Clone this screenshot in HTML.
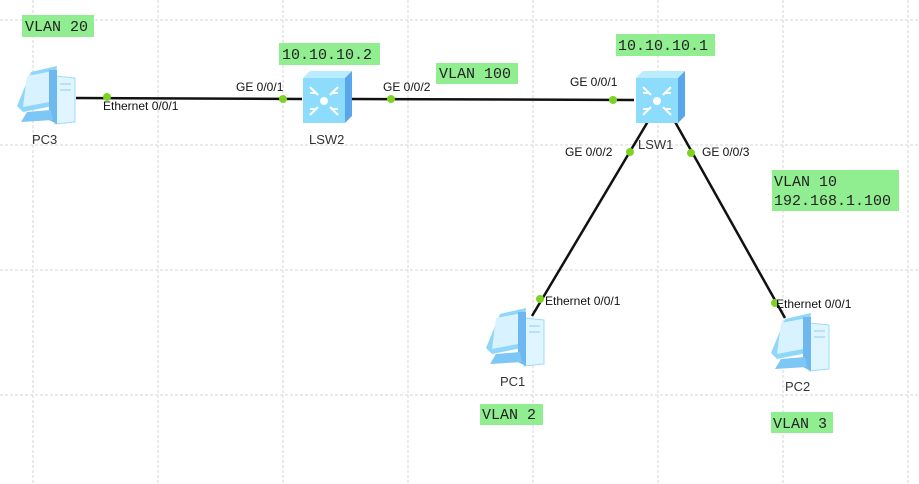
<!DOCTYPE html>
<html><head><meta charset="utf-8"><style>
body{margin:0;background:#fff;}
svg{display:block}
.g{fill:#90ee90}
.m{font-family:"Liberation Mono",monospace;font-size:15px;fill:#222}
.s{font-family:"Liberation Sans",sans-serif;font-size:12px;fill:#111}
.n{font-family:"Liberation Sans",sans-serif;font-size:13px;fill:#333}
</style></head><body>
<svg width="919" height="484" viewBox="0 0 919 484" xmlns="http://www.w3.org/2000/svg">
<defs>
<g id="pc">
  <polygon points="18,6 44,0 40,40 10,46 4,40" fill="#8fd6fb"/>
  <polygon points="14,10 40,5 36,36 10,41" fill="#d8f3ff"/>
  <polygon points="42,10 62,12 62,56 42,58" fill="#dff5ff" stroke="#9edcf8"/>
  <polygon points="36,4 44,4 44,58 36,54" fill="#6fb8ef"/>
  <polygon points="14,46 38,44 40,54 8,56" fill="#7cc7f5"/>
  <line x1="47" y1="18" x2="58" y2="18" stroke="#8fd0f0"/>
  <line x1="47" y1="24" x2="58" y2="24" stroke="#8fd0f0"/>
</g>
<g id="sw">
  <polygon points="3,7 10,0 52,0 45,7" fill="#b9ecff"/>
  <polygon points="45,7 52,0 52,45 45,52" fill="#5aa6ea"/>
  <rect x="3" y="7" width="42" height="45" fill="#8edcfb"/>
  <circle cx="24" cy="30" r="4" fill="#fff"/>
  <g stroke="#fff" stroke-width="2" fill="none">
   <path d="M10 16 L18 24 M10 22 L16 22 M38 16 L30 24 M38 22 L32 22 M10 44 L18 36 M10 38 L16 38 M38 44 L30 36 M38 38 L32 38"/>
  </g>
</g>
</defs>
<g stroke="#d4d4d4" stroke-dasharray="3,2" stroke-width="1">
 <line x1="33" y1="0" x2="33" y2="484"/><line x1="158" y1="0" x2="158" y2="484"/>
 <line x1="283" y1="0" x2="283" y2="484"/><line x1="408" y1="0" x2="408" y2="484"/>
 <line x1="533" y1="0" x2="533" y2="484"/><line x1="658" y1="0" x2="658" y2="484"/>
 <line x1="783" y1="0" x2="783" y2="484"/><line x1="908" y1="0" x2="908" y2="484"/>
 <line x1="0" y1="20" x2="919" y2="20"/><line x1="0" y1="145" x2="919" y2="145"/>
 <line x1="0" y1="270" x2="919" y2="270"/><line x1="0" y1="395" x2="919" y2="395"/>
</g>
<g stroke="#111" stroke-width="2.5">
 <line x1="76" y1="98" x2="302" y2="99"/>
 <line x1="352" y1="99" x2="634" y2="100"/>
 <line x1="650" y1="118" x2="532" y2="316"/>
 <line x1="674" y1="120" x2="785" y2="318"/>
</g>
<use href="#pc" x="13" y="66"/>
<use href="#pc" x="482" y="308"/>
<use href="#pc" x="767" y="313"/>
<use href="#sw" x="300" y="71"/>
<use href="#sw" x="633" y="71"/>
<g fill="#7ed321">
 <circle cx="107" cy="97" r="4"/><circle cx="283" cy="99" r="4"/>
 <circle cx="391" cy="99" r="4"/><circle cx="613" cy="100" r="4"/>
 <circle cx="630" cy="152" r="4"/><circle cx="691" cy="153" r="4"/>
 <circle cx="540" cy="299" r="4"/><circle cx="775" cy="303" r="4"/>
</g>
<rect class="g" x="22" y="15" width="72" height="22"/><text class="m" x="25" y="31">VLAN 20</text>
<rect class="g" x="279" y="43" width="101" height="22"/><text class="m" x="282" y="59">10.10.10.2</text>
<rect class="g" x="436" y="63" width="82" height="21"/><text class="m" x="439" y="78">VLAN 100</text>
<rect class="g" x="616" y="34" width="99" height="22"/><text class="m" x="618" y="50">10.10.10.1</text>
<rect class="g" x="772" y="170" width="127" height="41"/><text class="m" x="774" y="186">VLAN 10</text><text class="m" x="774" y="205">192.168.1.100</text>
<rect class="g" x="480" y="404" width="63" height="21"/><text class="m" x="482" y="419">VLAN 2</text>
<rect class="g" x="771" y="412" width="62" height="21"/><text class="m" x="773" y="428">VLAN 3</text>
<text class="s" x="103" y="110">Ethernet 0/0/1</text>
<text class="s" x="236" y="91">GE 0/0/1</text>
<text class="s" x="383" y="91">GE 0/0/2</text>
<text class="s" x="570" y="86">GE 0/0/1</text>
<text class="s" x="565" y="156">GE 0/0/2</text>
<text class="s" x="702" y="156">GE 0/0/3</text>
<text class="s" x="545" y="305">Ethernet 0/0/1</text>
<text class="s" x="776" y="308">Ethernet 0/0/1</text>
<text class="n" x="32" y="144">PC3</text>
<text class="n" x="309" y="144">LSW2</text>
<text class="n" x="638" y="149">LSW1</text>
<text class="n" x="500" y="386">PC1</text>
<text class="n" x="785" y="391">PC2</text>
</svg>
</body></html>
